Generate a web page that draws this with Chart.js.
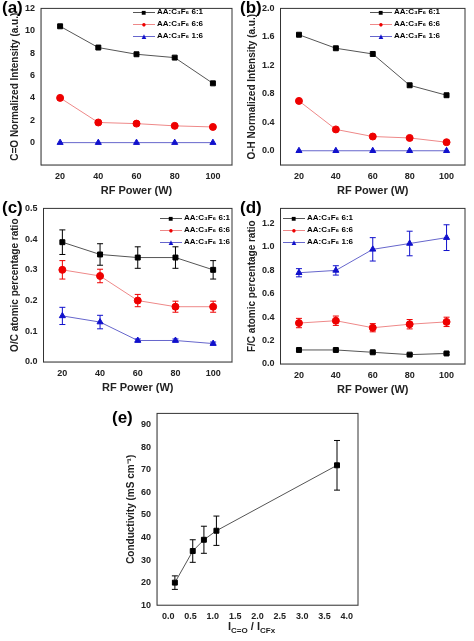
<!DOCTYPE html>
<html><head><meta charset="utf-8">
<script src="https://cdn.jsdelivr.net/npm/chart.js@4"></script>
<style>
body{margin:0;background:#fff;font-family:Arial,"Liberation Sans",sans-serif}
.p{position:absolute}
.lab{position:absolute;font-size:17px;font-weight:bold}
.leg{position:absolute;font-size:8px;font-weight:bold;line-height:12px}
.leg div{display:flex;align-items:center}
.leg span.m{display:inline-block;width:22px;text-align:center;margin-right:2px;position:relative}
.xt{position:absolute;font-size:11px;font-weight:bold;color:#222}
.xt sub{font-size:8px}
</style></head><body>
<canvas id="ca" class="p" style="left:0;top:0" width="237" height="200"></canvas>
<canvas id="cb" class="p" style="left:237px;top:0" width="237" height="200"></canvas>
<canvas id="cc" class="p" style="left:0;top:200px" width="237" height="205"></canvas>
<canvas id="cd" class="p" style="left:237px;top:200px" width="237" height="205"></canvas>
<canvas id="ce" class="p" style="left:110px;top:405px" width="260" height="222"></canvas>
<div class="lab" style="left:2px;top:-2px">(a)</div>
<div class="lab" style="left:240px;top:-2px">(b)</div>
<div class="lab" style="left:2px;top:198px">(c)</div>
<div class="lab" style="left:240px;top:198px">(d)</div>
<div class="lab" style="left:112px;top:408px">(e)</div>
<div class="xt" style="left:228px;top:620px">I<sub>C=O</sub> / I<sub>CFx</sub></div>
<script>
const power = [20, 40, 60, 80, 100];
const seriesNames = ["AA:C\u2083F\u2086 6:1", "AA:C\u2083F\u2086 6:6", "AA:C\u2083F\u2086 1:6"];

const coA = [10.4, 8.5, 7.9, 7.6, 5.3];
const coB = [4.0, 1.8, 1.7, 1.5, 1.4];
const coC = [0, 0, 0, 0, 0];

const ohA = [1.63, 1.44, 1.36, 0.92, 0.78];
const ohB = [0.70, 0.30, 0.20, 0.18, 0.12];
const ohC = [0, 0, 0, 0, 0];

const ocA = [0.39, 0.35, 0.34, 0.34, 0.30];
const ocAErr = [0.04, 0.035, 0.035, 0.035, 0.03];
const ocB = [0.30, 0.28, 0.20, 0.18, 0.18];
const ocBErr = [0.03, 0.022, 0.02, 0.018, 0.018];
const ocC = [0.15, 0.13, 0.07, 0.07, 0.06];
const ocCErr = [0.028, 0.022, 0.005, 0.005, 0.005];

const fcA = [0.12, 0.12, 0.10, 0.08, 0.09];
const fcAErr = [0.01, 0.01, 0.01, 0.01, 0.01];
const fcB = [0.35, 0.37, 0.31, 0.34, 0.36];
const fcBErr = [0.04, 0.04, 0.035, 0.04, 0.04];
const fcC = [0.78, 0.80, 0.98, 1.03, 1.08];
const fcCErr = [0.035, 0.04, 0.10, 0.105, 0.11];

const ratio = [0.15, 0.55, 0.80, 1.08, 3.78];
const cond = [20, 34, 39, 43, 72];
const condErr = [3, 5, 6, 6.5, 11];

const styles = [
  {line:"#555", fill:"#000", shape:"rect"},
  {line:"#e88", fill:"#e00", shape:"circle"},
  {line:"#66c", fill:"#11c", shape:"triangle"}
];

const errPlugin = {
  id:"err",
  afterDatasetsDraw(chart){
    const c = chart.ctx, xs = chart.scales.x, ys = chart.scales.y;
    chart.data.datasets.forEach(ds => {
      if(!ds.err) return;
      c.save(); c.strokeStyle = ds.errColor; c.lineWidth = 1;
      ds.data.forEach((pt, i) => {
        const x = xs.getPixelForValue(pt.x);
        const y1 = ys.getPixelForValue(pt.y - ds.err[i]), y2 = ys.getPixelForValue(pt.y + ds.err[i]);
        c.beginPath(); c.moveTo(x, y1); c.lineTo(x, y2);
        c.moveTo(x-3, y1); c.lineTo(x+3, y1); c.moveTo(x-3, y2); c.lineTo(x+3, y2); c.stroke();
      });
      c.restore();
    });
  }
};
const frame = {
  id:"frame",
  afterDraw(chart){
    const a = chart.chartArea, c = chart.ctx;
    c.save(); c.strokeStyle = "#333"; c.lineWidth = 1;
    c.strokeRect(a.left, a.top, a.right-a.left, a.bottom-a.top); c.restore();
  }
};

function ds(xv, yv, s, err, label){
  return {label, data: xv.map((x,i)=>({x, y:yv[i]})), borderColor:s.line, backgroundColor:s.fill,
    pointBackgroundColor:s.fill, pointBorderColor:s.fill, pointStyle:s.shape, pointRadius:3.5,
    borderWidth:1, err, errColor:s.fill};
}

function make(id, sets, xopt, yopt, xTitle, yTitle, pad){
  new Chart(document.getElementById(id), {
    type:"scatter",
    data:{datasets:sets.map(d=>({...d, showLine:true}))},
    options:{
      responsive:false, animation:false,
      layout:{padding:pad},
      plugins:{legend:{display:false}, tooltip:{enabled:false}},
      scales:{
        x:{type:"linear", ...xopt, grid:{display:false, drawTicks:true, tickLength:3},
          ticks:{...(xopt.ticks||{}), color:"#222", font:{size:9, weight:"bold"}},
          title:{display:!!xTitle, text:xTitle, color:"#222", font:{size:11, weight:"bold"}, padding:0}},
        y:{...yopt, grid:{display:false, tickLength:3},
          ticks:{...(yopt.ticks||{}), color:"#222", font:{size:9, weight:"bold"}},
          title:{display:true, text:yTitle, color:"#222", font:{size:10, weight:"bold"}, padding:1}}
      }
    },
    plugins:[errPlugin, frame]
  });
}

const xPow = {min:10, max:110, afterBuildTicks(ax){ax.ticks = power.map(v=>({value:v}));}};

make("ca", [ds(power, coA, styles[0]), ds(power, coB, styles[1]), ds(power, coC, styles[2])],
  xPow, {min:-2, max:12, afterBuildTicks(ax){ax.ticks=[0,2,4,6,8,10,12].map(v=>({value:v}));}},
  "RF Power (W)", "C=O Normalized Intensity (a.u.)", {left:8, top:5, right:5, bottom:2});
make("cb", [ds(power, ohA, styles[0]), ds(power, ohB, styles[1]), ds(power, ohC, styles[2])],
  xPow, {min:-0.2, max:2.0, afterBuildTicks(ax){ax.ticks=[0,0.4,0.8,1.2,1.6,2.0].map(v=>({value:v}));},
    ticks:{callback:v=>v.toFixed(1)}},
  "RF Power (W)", "O-H Normalized Intensity (a.u.)", {left:8, top:5, right:9, bottom:2});
make("cc", [ds(power, ocA, styles[0], ocAErr), ds(power, ocB, styles[1], ocBErr), ds(power, ocC, styles[2], ocCErr)],
  xPow, {min:0, max:0.5, ticks:{stepSize:0.1, callback:v=>v.toFixed(1)}},
  "RF Power (W)", "O/C atomic percentage ratio", {left:8, top:6, right:5, bottom:10});
make("cd", [ds(power, fcA, styles[0], fcAErr), ds(power, fcB, styles[1], fcBErr), ds(power, fcC, styles[2], fcCErr)],
  xPow, {min:0, max:1.33, afterBuildTicks(ax){ax.ticks=[0,0.2,0.4,0.6,0.8,1.0,1.2].map(v=>({value:v}));},
    ticks:{callback:v=>v.toFixed(1)}},
  "RF Power (W)", "F/C atomic percentage ratio", {left:8, top:8, right:9, bottom:8});
make("ce", [ds(ratio, cond, styles[0], condErr)],
  {min:-0.25, max:4.25, afterBuildTicks(ax){ax.ticks=[0,0.5,1,1.5,2,2.5,3,3.5,4].map(v=>({value:v}));},
    ticks:{callback:v=>v.toFixed(1)}},
  {min:10, max:95, afterBuildTicks(ax){ax.ticks=[10,20,30,40,50,60,70,80,90].map(v=>({value:v}));}},
  "", "Conductivity (mS cm\u207B\u00B9)", {left:14, top:2, right:12, bottom:2});

// inline legends
const legs = [[133,6],[370,6],[160,212],[283,212]];
const marks = ["\u25A0","\u25CF","\u25B2"];
legs.forEach(([l,t])=>{
  const d = document.createElement("div"); d.className="leg"; d.style.left=l+"px"; d.style.top=t+"px";
  d.innerHTML = seriesNames.map((n,i)=>`<div><span class="m" style="color:${styles[i].fill};border-top:1px solid ${styles[i].line};height:0;line-height:0">${marks[i]}</span>${n}</div>`).join("");
  document.body.appendChild(d);
});
</script>
</body></html>
